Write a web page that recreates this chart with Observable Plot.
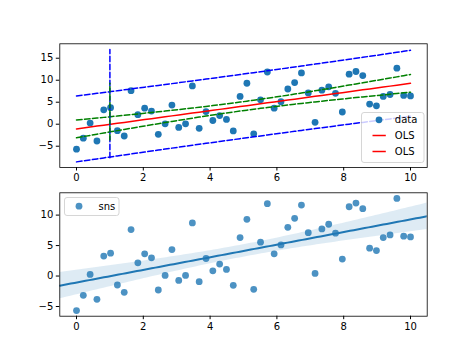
<!DOCTYPE html>
<html><head><meta charset="utf-8">
<script src="https://cdn.jsdelivr.net/npm/d3@7"></script>
<script src="https://cdn.jsdelivr.net/npm/@observablehq/plot@0.6"></script>
<style>
body{margin:0;background:#fff;}
#wrap{position:relative;width:474px;height:355px;font-family:"DejaVu Sans",sans-serif;overflow:hidden;}
#wrap > svg, #wrap > div{position:absolute;left:0;}
.leg{position:absolute;}
</style></head><body><div id="wrap"></div>
<script>
// ---- data ----
const xValues = [0.000,0.204,0.408,0.612,0.816,1.020,1.224,1.429,1.633,1.837,
  2.041,2.245,2.449,2.653,2.857,3.061,3.265,3.469,3.673,3.878,
  4.082,4.286,4.490,4.694,4.898,5.102,5.306,5.510,5.714,5.918,
  6.122,6.327,6.531,6.735,6.939,7.143,7.347,7.551,7.755,7.959,
  8.163,8.367,8.571,8.776,8.980,9.184,9.388,9.592,9.796,10.000];
const yValues = [-5.67,-3.17,0.26,-3.82,3.27,3.76,-1.47,-2.68,7.62,2.17,
  3.64,2.99,-2.29,0.10,4.35,-0.72,0.10,8.71,-0.93,2.88,
  0.85,1.96,1.08,-1.53,6.31,9.31,-2.18,5.55,11.87,3.64,
  5.11,8.00,9.47,11.65,7.12,0.43,7.73,8.50,7.03,2.78,
  11.37,11.98,11.05,4.58,4.18,6.31,6.75,12.74,6.54,6.42];
const vlineX = [1, 1];
const vlineBlueY = [-7.65, 17.0];
const vlineGreenY = [-3.6, 9.3];
const xTicks = [0, 2, 4, 6, 8, 10];
const yTicksTop = [-5, 0, 5, 10, 15];
const yTicksBottom = [-5, 0, 5, 10];
const legendTop = ["data", "OLS", "OLS"];
const legendBottom = ["sns"];

// ---- OLS fit derived from the data ----
const n = xValues.length;
const xbar = d3.mean(xValues), ybar = d3.mean(yValues);
const Sxx = d3.sum(xValues, x => (x - xbar) ** 2);
const Sxy = d3.sum(xValues, (x, i) => (x - xbar) * (yValues[i] - ybar));
const b1 = Sxy / Sxx, b0 = ybar - b1 * xbar;
const sse = d3.sum(xValues, (x, i) => (yValues[i] - b0 - b1 * x) ** 2);
const s = Math.sqrt(sse / (n - 2));
const tcrit = 2.0106;
function band(x) {
  const yh = b0 + b1 * x;
  const h = 1 / n + (x - xbar) ** 2 / Sxx;
  const ci = tcrit * s * Math.sqrt(h), pi = tcrit * s * Math.sqrt(1 + h);
  return {x, yh, ciLo: yh - ci, ciHi: yh + ci, piLo: yh - pi, piHi: yh + pi};
}
const topRows = xValues.map(band);
const X_DOMAIN = [-0.5, 10.5];
const grid = d3.range(0, 101).map(i => band(X_DOMAIN[0] + (X_DOMAIN[1] - X_DOMAIN[0]) * i / 100));
const pts = xValues.map((x, i) => ({x, y: yValues[i]}));

function pad(lo, hi) { const m = (hi - lo) * 0.05; return [lo - m, hi + m]; }
const topAll = [...yValues, ...topRows.map(d => d.piLo), ...topRows.map(d => d.piHi), ...vlineBlueY];
const topDomain = pad(d3.min(topAll), d3.max(topAll));
const botDomain = pad(d3.min(yValues), d3.max(yValues));

const C0 = "#1f77b4";
const dash = "5.6,2.4";
const common = {
  width: 474, marginLeft: 59.3, marginRight: 47.3,
  style: {fontFamily: "DejaVu Sans, sans-serif", fontSize: "10px", color: "black", background: "white"}
};
const axes = (yt) => [
  Plot.axisX({ticks: xTicks, tickSize: 3.5, tickPadding: 3, label: null, tickFormat: d3.format("d")}),
  Plot.axisY({ticks: yt, tickSize: 3.5, tickPadding: 3, label: null, tickFormat: d3.format("d")})
];

const topChart = Plot.plot({
  ...common, height: 185, marginTop: 43.3, marginBottom: 18,
  x: {domain: X_DOMAIN}, y: {domain: topDomain},
  marks: [
    Plot.dot(pts, {x: "x", y: "y", r: 3.4, fill: C0}),
    Plot.line(topRows, {x: "x", y: "yh", stroke: "red", strokeWidth: 1.5}),
    Plot.line(topRows, {x: "x", y: "ciLo", stroke: "green", strokeWidth: 1.5, strokeDasharray: dash}),
    Plot.line(topRows, {x: "x", y: "ciHi", stroke: "green", strokeWidth: 1.5, strokeDasharray: dash}),
    Plot.line(topRows, {x: "x", y: "piLo", stroke: "blue", strokeWidth: 1.5, strokeDasharray: dash}),
    Plot.line(topRows, {x: "x", y: "piHi", stroke: "blue", strokeWidth: 1.5, strokeDasharray: dash}),
    Plot.line(vlineX.map((x, i) => ({x, y: vlineBlueY[i]})), {x: "x", y: "y", stroke: "blue", strokeWidth: 1.5, strokeDasharray: dash}),
    Plot.line(vlineX.map((x, i) => ({x, y: vlineGreenY[i]})), {x: "x", y: "y", stroke: "green", strokeWidth: 1.5, strokeDasharray: dash}),
    ...axes(yTicksTop),
    Plot.frame({stroke: "black", strokeWidth: 0.8})
  ]
});
topChart.style.top = "0px";

const bottomChart = Plot.plot({
  ...common, height: 170, marginTop: 7.3, marginBottom: 39.3,
  x: {domain: X_DOMAIN}, y: {domain: botDomain},
  clip: true,
  marks: [
    Plot.dot(pts, {x: "x", y: "y", r: 3.4, fill: C0, fillOpacity: 0.8}),
    Plot.areaY(grid, {x: "x", y1: "ciLo", y2: "ciHi", fill: C0, fillOpacity: 0.15}),
    Plot.line(grid, {x: "x", y: "yh", stroke: C0, strokeWidth: 2}),
    ...axes(yTicksBottom),
    Plot.frame({stroke: "black", strokeWidth: 0.8})
  ]
});
bottomChart.style.top = "185px";

const wrap = document.getElementById("wrap");
wrap.appendChild(topChart);
wrap.appendChild(bottomChart);

// ---- legends ----
const NS = "http://www.w3.org/2000/svg";
function el(tag, attrs, parent) {
  const e = document.createElementNS(NS, tag);
  for (const k in attrs) e.setAttribute(k, attrs[k]);
  parent.appendChild(e); return e;
}
function legend(left, topPx, w, h) {
  const svg = document.createElementNS(NS, "svg");
  svg.setAttribute("width", w + 2); svg.setAttribute("height", h + 2);
  svg.setAttribute("class", "leg");
  svg.style.left = left + "px"; svg.style.top = topPx + "px";
  svg.style.fontFamily = "DejaVu Sans, sans-serif";
  el("rect", {x: 0.5, y: 0.5, width: w, height: h, rx: 2.5, fill: "white", "fill-opacity": 0.8, stroke: "#cccccc", "stroke-width": 0.8}, svg);
  wrap.appendChild(svg);
  return svg;
}
const lt = legend(361.2, 112.2, 62.5, 50);
const rowsY = [7.8, 23.5, 39.5];
legendTop.forEach((lab, i) => {
  const y = rowsY[i];
  if (i === 0) el("circle", {cx: 18, cy: y, r: 3.4, fill: C0}, lt);
  else el("line", {x1: 11.5, x2: 24.8, y1: y, y2: y, stroke: "red", "stroke-width": 1.5}, lt);
  const t = el("text", {x: 33.8, y: y + 3.6, "font-size": 10, fill: "black"}, lt);
  t.textContent = lab;
});
const lb = legend(63.5, 196.8, 54.5, 18);
legendBottom.forEach((lab) => {
  el("circle", {cx: 15, cy: 9.2, r: 3.4, fill: C0, "fill-opacity": 0.8}, lb);
  const t = el("text", {x: 34.5, y: 12.8, "font-size": 10, fill: "black"}, lb);
  t.textContent = lab;
});
</script></body></html>
